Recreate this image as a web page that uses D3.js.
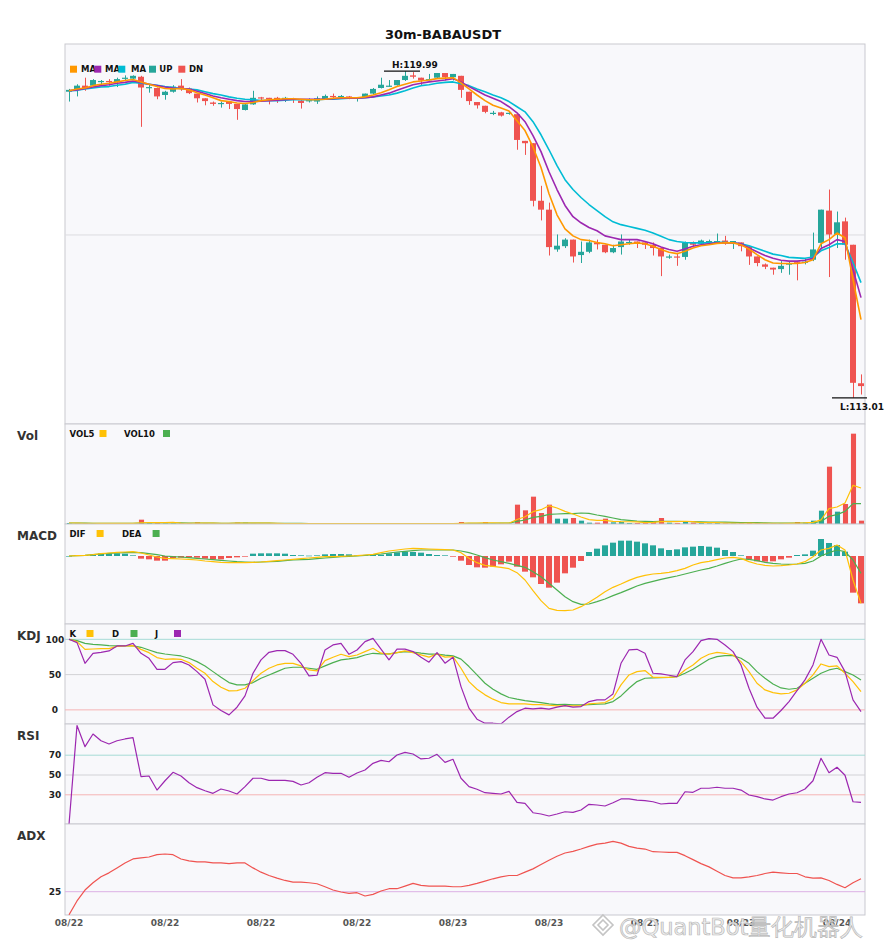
<!DOCTYPE html>
<html>
<head>
<meta charset="utf-8">
<script src="https://cdn.jsdelivr.net/npm/d3@7/dist/d3.min.js"></script>
<style>
  body { margin: 0; background: #fff; }
  text { font-family: "DejaVu Sans", sans-serif; }
</style>
</head>
<body>
<svg id="chart"></svg>
<script>
// 30m-BABAUSDT, 100 candles
const opens = [119.55,119.59,119.68,119.68,119.77,119.78,119.76,119.84,119.83,119.87,
  119.64,119.63,119.48,119.55,119.68,119.62,119.51,119.41,119.32,119.30,
  119.34,119.29,119.16,119.28,119.43,119.42,119.42,119.41,119.40,119.36,
  119.36,119.34,119.39,119.46,119.44,119.45,119.42,119.42,119.51,119.63,
  119.67,119.69,119.80,119.90,119.85,119.81,119.85,119.95,119.86,119.89,
  119.55,119.33,119.25,119.09,119.11,119.09,119.07,118.50,118.45,117.22,
  117.03,116.18,116.25,116.39,116.06,116.13,116.33,116.28,116.12,116.23,
  116.33,116.35,116.33,116.28,116.21,116.02,116.03,116.02,116.32,116.30,
  116.35,116.35,116.37,116.35,116.33,116.25,116.03,115.86,115.79,115.76,
  115.87,115.92,115.91,115.96,116.32,117.01,116.50,116.78,116.28,113.32];
const highs = [119.61,119.71,119.85,119.82,119.80,119.82,119.85,119.90,119.90,119.89,
  119.71,119.64,119.57,119.69,119.82,119.64,119.51,119.41,119.34,119.34,
  119.34,119.29,119.29,119.57,119.44,119.42,119.44,119.44,119.42,119.38,
  119.41,119.45,119.49,119.51,119.48,119.46,119.43,119.51,119.63,119.85,
  119.80,119.80,119.99,119.97,119.85,119.93,119.95,119.95,119.93,119.89,
  119.55,119.33,119.25,119.14,119.12,119.12,119.07,118.50,118.45,117.54,
  117.18,116.50,116.42,116.39,116.35,116.39,116.39,116.28,116.28,116.50,
  116.39,116.35,116.33,116.33,116.21,116.07,116.11,116.35,116.35,116.39,
  116.39,116.52,116.47,116.36,116.33,116.25,116.03,115.88,115.79,115.93,
  115.93,115.92,115.99,116.54,117.03,117.46,116.99,116.86,116.28,113.51];
const lows = [119.34,119.45,119.57,119.66,119.68,119.68,119.65,119.78,119.80,118.80,
  119.53,119.39,119.38,119.53,119.57,119.50,119.32,119.26,119.25,119.21,
  119.18,118.95,119.15,119.27,119.33,119.28,119.31,119.33,119.31,119.19,
  119.32,119.29,119.38,119.41,119.42,119.39,119.34,119.42,119.49,119.62,
  119.66,119.68,119.78,119.83,119.68,119.79,119.83,119.79,119.79,119.42,
  119.27,119.19,119.09,119.05,119.02,119.06,118.31,118.20,117.10,116.80,
  116.05,116.13,116.21,115.90,115.89,116.10,116.18,116.10,116.10,116.07,
  116.28,116.21,116.19,116.05,115.61,115.98,115.83,115.96,116.25,116.28,
  116.28,116.30,116.28,116.19,116.14,115.85,115.82,115.76,115.64,115.68,
  115.64,115.52,115.86,115.93,116.18,115.59,116.21,115.96,113.01,113.08];
const closes = [119.59,119.68,119.63,119.80,119.78,119.76,119.82,119.85,119.89,119.64,
  119.65,119.45,119.55,119.66,119.63,119.52,119.41,119.35,119.29,119.31,
  119.29,119.18,119.28,119.42,119.42,119.39,119.41,119.42,119.39,119.31,
  119.37,119.41,119.46,119.45,119.46,119.43,119.43,119.51,119.61,119.70,
  119.68,119.80,119.89,119.87,119.79,119.82,119.95,119.86,119.93,119.59,
  119.35,119.26,119.12,119.10,119.04,119.10,118.52,118.45,117.22,117.03,
  116.23,116.26,116.39,116.03,116.13,116.33,116.29,116.12,116.21,116.35,
  116.34,116.30,116.28,116.21,116.03,116.03,116.02,116.32,116.28,116.37,
  116.36,116.36,116.32,116.36,116.25,116.03,115.89,115.81,115.75,115.83,
  115.88,115.91,115.92,116.18,117.03,116.50,116.76,116.28,113.33,113.26];

const ma5 = [119.57,119.61,119.63,119.68,119.71,119.73,119.76,119.79,119.81,119.76,
  119.71,119.66,119.62,119.61,119.62,119.59,119.53,119.48,119.42,119.36,
  119.34,119.31,119.30,119.32,119.36,119.38,119.39,119.40,119.40,119.39,
  119.38,119.38,119.39,119.41,119.42,119.42,119.42,119.44,119.48,119.53,
  119.59,119.66,119.71,119.76,119.78,119.80,119.83,119.84,119.85,119.74,
  119.61,119.48,119.36,119.26,119.20,119.14,118.93,118.72,118.37,117.93,
  117.37,116.92,116.62,116.47,116.39,116.37,116.33,116.30,116.26,116.28,
  116.30,116.32,116.30,116.25,116.18,116.12,116.09,116.14,116.21,116.26,
  116.28,116.31,116.32,116.32,116.28,116.19,116.07,115.96,115.89,115.88,
  115.88,115.88,115.90,115.96,116.30,116.39,116.53,116.43,115.54,114.68];
const ma10 = [119.57,119.59,119.62,119.65,119.68,119.70,119.73,119.75,119.78,119.75,
  119.71,119.68,119.65,119.63,119.62,119.61,119.56,119.51,119.46,119.42,
  119.39,119.36,119.34,119.34,119.35,119.36,119.37,119.38,119.39,119.39,
  119.39,119.39,119.39,119.40,119.41,119.41,119.41,119.42,119.44,119.48,
  119.52,119.58,119.64,119.70,119.73,119.76,119.78,119.80,119.83,119.76,
  119.66,119.57,119.48,119.41,119.34,119.23,119.10,118.91,118.61,118.27,
  117.84,117.46,117.12,116.88,116.75,116.65,116.58,116.47,116.43,116.39,
  116.39,116.39,116.35,116.30,116.23,116.18,116.14,116.19,116.25,116.28,
  116.30,116.32,116.32,116.32,116.30,116.21,116.13,116.05,115.99,115.95,
  115.93,115.93,115.95,115.99,116.20,116.28,116.39,116.35,115.75,115.15];
const ma20 = [119.57,119.58,119.61,119.63,119.65,119.66,119.69,119.71,119.75,119.73,
  119.71,119.69,119.66,119.64,119.62,119.61,119.59,119.55,119.51,119.48,
  119.44,119.41,119.39,119.38,119.36,119.36,119.36,119.37,119.38,119.38,
  119.38,119.38,119.39,119.39,119.40,119.41,119.41,119.42,119.44,119.46,
  119.48,119.52,119.57,119.63,119.68,119.70,119.73,119.75,119.76,119.72,
  119.68,119.61,119.55,119.48,119.42,119.34,119.23,119.12,118.91,118.63,
  118.31,117.97,117.67,117.46,117.29,117.14,117.01,116.88,116.77,116.71,
  116.67,116.63,116.59,116.53,116.46,116.39,116.35,116.33,116.32,116.32,
  116.32,116.33,116.33,116.32,116.30,116.26,116.20,116.14,116.08,116.05,
  116.01,116.00,115.99,116.02,116.15,116.22,116.30,116.30,115.90,115.47];

const volume = [3,2,2,2,1,1,2,1,2,13, 3,3,2,2,2,2,5,2,1,1, 2,4,4,2,1,1,1,1,1,2,
  1,1,1,1,1,1,1,1,1,1, 1,1,1,1,1,1,1,1,1,6, 3,2,6,1,2,1,58,41,82,33,
  58,16,16,18,10,4,4,16,5,6, 3,3,4,8,18,4,3,8,4,3, 2,3,2,2,2,3,2,2,2,2,
  2,6,4,10,40,172,37,60,271,10];
const vol5 = [3,2.5,2.3,2.2,2,1.6,1.6,1.6,1.6,3.8, 4,4.2,4.4,4.6,2.4,2.2,2.6,2.6,2.4,2.2,
  2.2,2.6,3,2.6,2.6,2.4,1.8,1.2,1,1.2, 1.2,1.2,1.2,1.2,1,1,1,1,1,1,
  1,1,1,1,1,1,1,1,1,2, 2.4,2.6,3.6,3.6,2.8,2.4,13.6,21.6,37,43,
  55,48,38,30,21,13,11,11,8,7, 6.8,6.6,4.2,4.8,7.2,7.4,7.4,8.2,7.4,4.4,
  4,4,2.8,2.4,2.2,2.4,2.2,2.2,2.2,2.2, 2,2.8,3.2,4.8,12.4,46,51,63,116,108];
const vol10 = [3,2.5,2.4,2.3,2.2,2,2,1.9,1.9,3, 3,3,3,3.2,3.2,3,3,2.6,2.4,2.2,
  2.2,2.4,2.6,2.6,2.6,2.4,2.2,2,1.8,1.6, 1.4,1.2,1.2,1.2,1.1,1.1,1,1,1,1,
  1,1,1,1,1,1,1,1,1,1.5, 1.7,1.8,2.3,2.3,2.4,2.4,8,12,20,23,
  29,30,31,31,33,32,27,23,18,13, 11,8.5,8,7,8,8,8,7.5,7,6.5,
  6,6,5.5,5,4.5,4.5,4,3.5,3,2.5, 2.5,3,3,3.5,7.5,23,28,38,61,61];

const dif = [0,0.005,0.01,0.02,0.035,0.045,0.055,0.06,0.065,0.045,
  0.015,-0.015,-0.035,-0.04,-0.045,-0.05,-0.06,-0.075,-0.085,-0.095,
  -0.1,-0.1,-0.1,-0.095,-0.09,-0.08,-0.07,-0.06,-0.05,-0.04,
  -0.03,-0.02,-0.01,-0.01,-0.005,0,0.005,0.015,0.025,0.05,
  0.075,0.09,0.105,0.115,0.11,0.105,0.1,0.095,0.09,0.05,
  -0.035,-0.1,-0.14,-0.155,-0.17,-0.19,-0.25,-0.36,-0.52,-0.67,
  -0.785,-0.815,-0.82,-0.81,-0.76,-0.695,-0.62,-0.535,-0.47,-0.42,
  -0.365,-0.32,-0.29,-0.27,-0.26,-0.245,-0.22,-0.185,-0.135,-0.1,
  -0.08,-0.055,-0.03,-0.02,-0.035,-0.085,-0.12,-0.14,-0.15,-0.145,
  -0.135,-0.12,-0.085,-0.01,0.09,0.115,0.165,0.09,-0.36,-0.71];
const dea = [0,0.005,0.01,0.02,0.03,0.04,0.045,0.05,0.055,0.05,
  0.035,0.02,0,-0.01,-0.015,-0.025,-0.035,-0.045,-0.055,-0.065,
  -0.075,-0.085,-0.09,-0.095,-0.09,-0.085,-0.08,-0.07,-0.06,-0.055,
  -0.05,-0.04,-0.03,-0.02,-0.01,-0.005,0,0.01,0.02,0.03,
  0.045,0.06,0.07,0.08,0.09,0.09,0.09,0.09,0.09,0.075,
  0.05,0.015,-0.025,-0.06,-0.085,-0.11,-0.14,-0.17,-0.235,-0.31,
  -0.41,-0.51,-0.61,-0.685,-0.725,-0.72,-0.685,-0.645,-0.595,-0.55,
  -0.5,-0.45,-0.41,-0.38,-0.35,-0.325,-0.3,-0.27,-0.24,-0.21,
  -0.185,-0.15,-0.11,-0.075,-0.045,-0.05,-0.07,-0.095,-0.11,-0.12,
  -0.125,-0.12,-0.11,-0.075,0,0.05,0.09,0.065,-0.06,-0.26];
const macdHist = [0,0.015,0.015,0.03,0.04,0.04,0.04,0.035,0.01,-0.04,
  -0.05,-0.07,-0.07,-0.03,-0.025,-0.025,-0.025,-0.04,-0.05,-0.05,
  -0.03,-0.02,-0.01,0.035,0.04,0.04,0.04,0.035,0.015,0.01,
  0.005,0.01,0.025,0.03,0.03,0.025,0.01,0.01,0.015,0.02,
  0.04,0.055,0.065,0.06,0.05,0.03,0.015,0.01,-0.01,-0.07,
  -0.135,-0.17,-0.175,-0.16,-0.125,-0.085,-0.16,-0.235,-0.32,-0.42,
  -0.475,-0.4,-0.26,-0.175,-0.075,0.06,0.11,0.16,0.2,0.23,
  0.23,0.215,0.19,0.16,0.115,0.09,0.1,0.13,0.14,0.15,
  0.14,0.125,0.09,0.06,0.01,-0.05,-0.08,-0.085,-0.08,-0.05,
  -0.025,0.015,0.025,0.08,0.255,0.195,0.165,0.065,-0.55,-0.71];

const kLine = [100,96.7,85.8,86.3,86.8,86.8,90.1,90.6,91.0,85.8,
  81.1,74.1,71.7,72.2,71.7,67.0,59.0,51.9,40.1,32.1,
  26.9,27.4,30.7,41.5,51.9,59.0,63.7,66.0,66.0,62.3,
  56.6,55.2,69.8,74.5,78.8,75.5,77.8,82.5,87.3,80.3,
  78.9,81.2,83.6,81.2,78.0,74.7,79.4,74.7,75.5,59.0,
  40.0,29.3,21.3,15.2,10.4,8.5,8.5,8.5,7.5,7.5,
  6.6,5.7,5.7,5.7,5.7,8.5,9.4,10.4,16.5,35.4,
  49.5,54.2,55.7,46.2,46.2,46.2,47.2,56.6,63.7,73.1,
  78.8,81.6,80.2,77.8,68.4,54.2,37.7,28.3,24.5,22.6,
  23.6,28.3,37.7,49.5,65.1,61.3,62.3,51.9,40.1,25.9];
const dLine = [100,98.1,94.3,92.9,92.0,91.0,90.6,90.6,90.6,88.7,
  84.9,81.1,79.2,77.8,76.4,73.1,68.4,62.3,54.2,46.2,
  38.7,35.4,35.4,38.7,44.8,49.5,54.2,59.0,60.4,60.4,
  59.0,57.5,62.3,67.0,70.8,72.2,74.1,77.8,80.2,79.4,
  79.4,81.2,82.6,82.0,80.3,78.9,78.9,77.5,76.5,71.9,
  61.4,49.6,37.8,29.3,22.7,17.5,15.2,13.2,11.8,10.4,
  8.5,7.5,8.0,7.1,7.1,7.5,8.0,8.5,11.8,19.8,
  30.7,40.1,44.8,45.3,45.8,46.2,47.2,51.9,57.5,64.6,
  71.7,75.5,76.9,76.9,73.1,66.0,54.2,44.8,36.8,31.1,
  29.2,30.7,37.7,44.8,51.9,56.6,59.0,54.2,49.5,42.5];
const jLine = [100,95.3,66.0,80.2,81.6,83.5,90.6,90.6,94.3,80.2,
  73.1,57.5,57.5,67.0,68.4,63.7,54.2,43.4,7.1,-0.9,
  -7.1,3.8,19.8,51.9,70.8,81.6,84.0,84.0,78.8,66.0,
  48.1,49.1,84.9,92.0,94.3,78.8,84.9,96.7,101.4,86.0,
  70.9,86.0,86.0,82.6,74.7,67.6,81.2,66.2,74.7,33.0,
  2.4,-13.2,-18.9,-18.9,-19.8,-10.3,-2.4,2.4,1.4,2.4,
  1.0,3.8,6.1,3.8,4.7,11.8,14.2,14.2,22.6,66.0,
  84.9,85.8,80.2,51.9,50.9,49.1,47.2,70.8,82.5,98.1,
  100.9,100,92.0,82.5,63.7,30.7,3.8,-11.8,-11.8,-0.9,
  11.8,27.4,42.5,63.7,100,77.8,74.5,54.2,14.2,-2.4];

const rsi = [0,100,78.6,91.4,84.6,81.3,84.6,86.4,87.7,48.3,
  49.0,34.8,44.2,52.7,49.0,42.2,37.2,34.1,31.5,35.9,
  33.8,30.8,38.2,46.7,46.7,44.6,44.6,44.6,43.6,39.9,
  42.2,47.7,52.3,51.7,51.7,47.7,52.0,55.1,61.8,64.8,
  63.4,70.2,72.9,71.2,66.2,66.9,70.9,62.8,65.9,46.7,
  38.2,35.6,32.1,31.5,30.8,33.5,22.4,21.4,11.9,10.6,
  8.6,10.6,12.9,12.3,14.6,20.4,19.7,18.7,22.0,25.8,
  25.8,24.7,24.1,23.0,20.7,21.4,21.4,33.1,32.5,36.6,
  36.6,37.6,36.6,36.6,34.8,29.8,28.1,25.8,24.7,28.1,
  30.8,32.1,35.9,44.2,66.9,52.3,57.8,49.7,23.0,22.4];

const adx = [15.67,21.27,25.67,28.6,31.0,32.6,34.6,36.6,38.2,38.6,
  39.0,39.93,40.2,39.93,38.2,37.4,37.0,37.0,36.6,36.6,
  36.33,36.6,36.6,34.6,32.87,31.53,30.47,29.53,28.87,28.87,
  28.6,28.2,27.0,25.67,24.87,24.33,24.6,23.27,23.93,25.27,
  26.2,26.2,27.27,28.33,27.53,27.27,27.27,27.27,27.0,27.0,
  27.53,28.33,29.27,30.2,31.0,31.53,31.53,32.87,34.2,35.93,
  37.67,39.27,40.6,41.27,42.2,43.27,44.2,44.6,45.27,44.6,
  43.27,42.6,42.2,41.13,41.0,40.87,40.87,39.53,37.93,36.33,
  35.0,33.27,31.53,30.6,30.6,31.0,31.53,32.33,32.87,32.6,
  32.33,32.33,31.0,30.47,30.6,29.53,27.93,26.6,28.6,30.2];

const xTickIdx = [0, 12, 24, 36, 48, 60, 72, 84, 96];
const xTickLabels = ["08/22", "08/22", "08/22", "08/22", "08/23", "08/23", "08/23", "08/23", "08/24"];
const mainGrid = [116.5];
const kdjTicks = [100, 50, 0];
const rsiTicks = [70, 50, 30];
const adxTicks = [25];

const mainLegend = [["MA", "#ff9800"], ["MA", "#9c27b0"], ["MA", "#00bcd4"], ["UP", "#26a69a"], ["DN", "#ef5350"]];
const volLegend = [["VOL5", "#ffc107"], ["VOL10", "#4caf50"]];
const macdLegend = [["DIF", "#ffc107"], ["DEA", "#4caf50"]];
const kdjLegend = [["K", "#ffc107"], ["D", "#4caf50"], ["J", "#9c27b0"]];

// ---------- layout ----------
const width = 885, height = 950;
const left = 65, right = 865;
const N = closes.length;
const upColor = "#26a69a", dnColor = "#ef5350";

const svg = d3.select("#chart").attr("width", width).attr("height", height);

const x = d3.scaleBand().domain(d3.range(N)).range([left, right])
  .paddingInner(0.25).paddingOuter(0.125);
const cx = i => x(i) + x.bandwidth() / 2;
const isUp = i => closes[i] >= opens[i];

function panel(name, top, bottom, label) {
  svg.append("rect")
    .attr("x", left).attr("y", top).attr("width", right - left).attr("height", bottom - top)
    .attr("fill", "#f8f8fb").attr("stroke", "#c9c9d0");
  svg.append("clipPath").attr("id", "clip-" + name)
    .append("rect").attr("x", left).attr("y", top).attr("width", right - left).attr("height", bottom - top);
  if (label) {
    svg.append("text").attr("x", 17).attr("y", top + 16)
      .attr("font-size", 12).attr("font-weight", "bold").attr("fill", "#333").text(label);
  }
  return svg.append("g").attr("clip-path", `url(#clip-${name})`);
}

function legend(items, top, xs) {
  // xs: [text x, square x] per item
  items.forEach((d, i) => {
    svg.append("text").attr("x", xs[i][0]).attr("y", top + 12.7)
      .attr("font-size", 8.5).attr("font-weight", "bold").attr("fill", "#111").text(d[0]);
    svg.append("rect").attr("x", xs[i][1]).attr("y", top + 6).attr("width", 7).attr("height", 7)
      .attr("fill", d[1]);
  });
}

function hGrid(g, scale, ticks, colors) {
  g.selectAll(null).data(ticks).join("line")
    .attr("x1", left).attr("x2", right)
    .attr("y1", d => scale(d)).attr("y2", d => scale(d))
    .attr("stroke", (d, i) => colors[i]).attr("stroke-width", 1);
}

function tickLabels(scale, ticks) {
  svg.selectAll(null).data(ticks).join("text")
    .attr("x", 55).attr("y", d => scale(d) + 3.2).attr("text-anchor", "middle")
    .attr("font-size", 9).attr("font-weight", "bold").attr("fill", "#222").text(d => d);
}

function drawLine(g, values, scale, color, w) {
  g.append("path").datum(values)
    .attr("fill", "none").attr("stroke", color).attr("stroke-width", w || 1.2)
    .attr("stroke-linejoin", "round")
    .attr("d", d3.line().x((d, i) => cx(i)).y(d => scale(d)));
}

// ---------- title ----------
svg.append("text").attr("x", 443).attr("y", 39).attr("text-anchor", "middle")
  .attr("font-size", 13).attr("font-weight", "bold").attr("fill", "#111").text("30m-BABAUSDT");

// ---------- main candles ----------
const yMain = d3.scaleLinear().domain([112.45, 120.57]).range([424, 44]);
const gMain = panel("main", 44, 424, null);
gMain.append("g").attr("transform", `translate(${left},0)`)
  .call(d3.axisLeft(yMain).tickValues(mainGrid).tickSize(-(right - left)).tickFormat(""))
  .call(g => g.select(".domain").remove())
  .call(g => g.selectAll(".tick line").attr("stroke", "#dcdce0"));

const candles = gMain.selectAll("g.candle").data(d3.range(N)).join("g").attr("class", "candle");
candles.append("line")
  .attr("x1", i => cx(i) + 0.5).attr("x2", i => cx(i) + 0.5)
  .attr("y1", i => yMain(highs[i])).attr("y2", i => yMain(lows[i]))
  .attr("stroke", i => isUp(i) ? upColor : dnColor).attr("stroke-width", 1);
candles.append("rect")
  .attr("x", i => x(i)).attr("width", x.bandwidth())
  .attr("y", i => yMain(Math.max(opens[i], closes[i])))
  .attr("height", i => Math.max(1.2, Math.abs(yMain(opens[i]) - yMain(closes[i]))))
  .attr("fill", i => isUp(i) ? upColor : dnColor);

drawLine(gMain, ma20, yMain, "#00bcd4", 1.6);
drawLine(gMain, ma10, yMain, "#9c27b0", 1.6);
drawLine(gMain, ma5, yMain, "#ff9800", 1.6);

legend(mainLegend, 59.7, [[81, 70], [105, 94.3], [131, 118.3], [159.3, 149], [189, 178.3]]);

// high / low markers
const hi = d3.maxIndex(highs), lo = d3.minIndex(lows);
svg.append("line").attr("x1", cx(hi) - 21).attr("x2", cx(hi) + 15)
  .attr("y1", yMain(highs[hi])).attr("y2", yMain(highs[hi])).attr("stroke", "#111").attr("stroke-width", 1.3);
svg.append("text").attr("x", cx(hi) - 13).attr("y", yMain(highs[hi]) - 3.5)
  .attr("font-size", 9).attr("font-weight", "bold").attr("fill", "#111").text("H:" + highs[hi].toFixed(2));
svg.append("line").attr("x1", cx(lo) - 21).attr("x2", cx(lo) + 14)
  .attr("y1", yMain(lows[lo])).attr("y2", yMain(lows[lo])).attr("stroke", "#111").attr("stroke-width", 1.3);
svg.append("text").attr("x", cx(lo) - 13).attr("y", yMain(lows[lo]) + 12)
  .attr("font-size", 9).attr("font-weight", "bold").attr("fill", "#111").text("L:" + lows[lo].toFixed(2));

// ---------- volume ----------
const yVol = d3.scaleLinear().domain([0, 300]).range([524, 424]);
const gVol = panel("vol", 424, 524, "Vol");
const vw = x.bandwidth() * 0.85;
gVol.selectAll("rect.v").data(volume).join("rect").attr("class", "v")
  .attr("x", (d, i) => cx(i) - vw / 2 + 0.5).attr("width", vw)
  .attr("y", d => yVol(d)).attr("height", d => yVol(0) - yVol(d))
  .attr("fill", (d, i) => isUp(i) ? upColor : dnColor);
drawLine(gVol, vol10, yVol, "#4caf50", 1.2);
drawLine(gVol, vol5, yVol, "#ffc107", 1.2);
legend(volLegend, 424, [[69.5, 99.5], [124, 163]]);

// ---------- MACD ----------
const yMacd = d3.scaleLinear().domain([-1.02, 0.48]).range([624, 524]);
const gMacd = panel("macd", 524, 624, "MACD");
gMacd.selectAll("rect.h").data(macdHist).join("rect").attr("class", "h")
  .attr("x", (d, i) => x(i)).attr("width", x.bandwidth())
  .attr("y", d => yMacd(Math.max(0, d)))
  .attr("height", d => Math.max(0.6, Math.abs(yMacd(d) - yMacd(0))))
  .attr("fill", d => d >= 0 ? upColor : dnColor);
drawLine(gMacd, dea, yMacd, "#4caf50", 1.2);
drawLine(gMacd, dif, yMacd, "#ffc107", 1.2);
legend(macdLegend, 524, [[69.5, 96.6], [122, 152.6]]);

// ---------- KDJ ----------
const yKdj = d3.scaleLinear().domain([-20, 121.7]).range([724, 624]);
const gKdj = panel("kdj", 624, 724, "KDJ");
hGrid(gKdj, yKdj, kdjTicks, ["#a6dbd6", "#d2d2d6", "#f6b4b4"]);
tickLabels(yKdj, kdjTicks);
drawLine(gKdj, dLine, yKdj, "#4caf50", 1.2);
drawLine(gKdj, kLine, yKdj, "#ffc107", 1.2);
drawLine(gKdj, jLine, yKdj, "#9c27b0", 1.2);
legend(kdjLegend, 624, [[69.5, 86.5], [112, 130.5], [155, 174]]);

// ---------- RSI ----------
const yRsi = d3.scaleLinear().domain([0, 100]).range([824.5, 725.5]);
const gRsi = panel("rsi", 724, 824, "RSI");
hGrid(gRsi, yRsi, rsiTicks, ["#a6dbd6", "#d2d2d6", "#f6b4b4"]);
tickLabels(yRsi, rsiTicks);
drawLine(gRsi, rsi, yRsi, "#9c27b0", 1.2);

// ---------- ADX ----------
const yAdx = d3.scaleLinear().domain([15.6, 52.3]).range([915, 824]);
const gAdx = panel("adx", 824, 915, "ADX");
hGrid(gAdx, yAdx, adxTicks, ["#dcb0e4"]);
tickLabels(yAdx, adxTicks);
drawLine(gAdx, adx, yAdx, "#ef5350", 1.2);

// ---------- x axis ----------
svg.append("g").attr("transform", "translate(0,915)")
  .call(d3.axisBottom(x).tickValues(xTickIdx).tickSize(0).tickPadding(5)
    .tickFormat(d => xTickLabels[xTickIdx.indexOf(d)]))
  .call(g => g.select(".domain").remove())
  .call(g => g.selectAll("text").attr("font-size", 9).attr("font-weight", "bold")
    .attr("fill", "#555").attr("font-family", "DejaVu Sans, sans-serif"));

// ---------- watermark (sits over the last x labels, as in the source) ----------
const wm = svg.append("g");
wm.append("path").attr("d", "M603,915 l10,10 l-10,10 l-10,-10 z M603,920 l5,5 l-5,5 l-5,-5 z")
  .attr("fill", "none").attr("stroke", "#c4c4c4").attr("stroke-width", 1.6);
wm.append("text").attr("x", 619).attr("y", 935)
  .attr("font-family", "'Noto Sans CJK SC', 'DejaVu Sans', sans-serif")
  .attr("font-size", 22.5).attr("fill", "#ececec").attr("fill-opacity", 0.9)
  .attr("stroke", "#b8b8b8").attr("stroke-width", 0.7)
  .text("@QuantBot量化机器人");
</script>
</body>
</html>
